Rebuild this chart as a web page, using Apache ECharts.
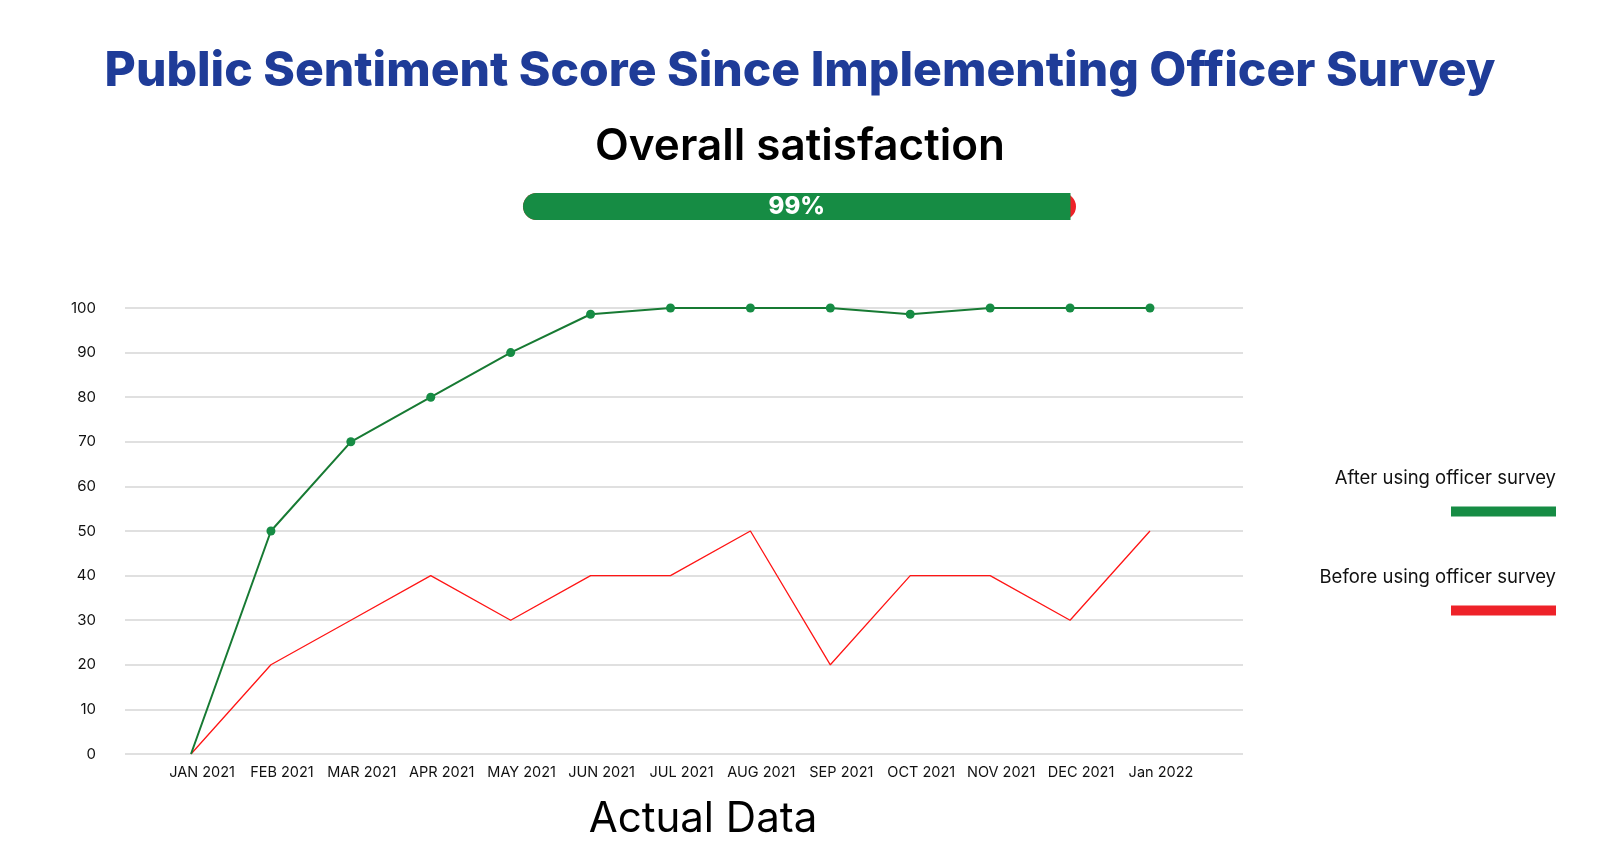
<!DOCTYPE html>
<html>
<head>
<meta charset="utf-8">
<script src="https://cdn.jsdelivr.net/npm/echarts@6/dist/echarts.min.js"></script>
<style>
  html, body { margin: 0; padding: 0; background: #fff; }
  #main { width: 1600px; height: 856px; }
</style>
</head>
<body>
<div id="main"></div>
<script>
const months = ["JAN 2021", "FEB 2021", "MAR 2021", "APR 2021", "MAY 2021", "JUN 2021", "JUL 2021",
  "AUG 2021", "SEP 2021", "OCT 2021", "NOV 2021", "DEC 2021", "Jan 2022"];
const afterSurvey = [0, 50, 70, 80, 90, 98.6, 100, 100, 100, 98.6, 100, 100, 100];
const beforeSurvey = [0, 20, 30, 40, 30, 40, 40, 50, 20, 40, 40, 30, 50];
const satisfaction = 99;
const yTicks = [0, 10, 20, 30, 40, 50, 60, 70, 80, 90, 100];

const green = "#168c44";
const red = "#ee2229";
const font = "Inter";

let myChart = echarts.init(document.getElementById('main'));

// index based x values so the axis can be padded on both sides
let afterData = afterSurvey.map(function (v, i) {
    return i === 0 ? {value: [i, v], symbol: 'none'} : [i, v];
});
let beforeData = beforeSurvey.map(function (v, i) { return [i, v]; });

function legendText(color) {
    return {
        fontFamily: font,
        fontSize: 18.5,
        color: '#111',
        rich: {
            t: {fontFamily: font, fontSize: 18.5, color: '#111', align: 'right', lineHeight: 56},
            g: {width: 105, height: 10, backgroundColor: color, align: 'right'}
        }
    };
}

let option = {
    backgroundColor: '#fff',
    title: [
        {
            text: 'Public Sentiment Score Since Implementing Officer Survey',
            left: 'center',
            top: 42,
            padding: 0,
            textStyle: {fontFamily: font, fontSize: 48, fontWeight: 800, color: '#1f3c98', lineHeight: 60}
        },
        {
            text: 'Overall satisfaction',
            left: 'center',
            top: 120,
            padding: 0,
            textStyle: {fontFamily: font, fontSize: 44, fontWeight: 600, color: '#000', lineHeight: 54}
        }
    ],
    graphic: [
        {
            type: 'text',
            x: 703,
            y: 819,
            style: {text: 'Actual Data', fontFamily: font, fontSize: 42, fill: '#000',
                align: 'center', verticalAlign: 'middle'}
        }
    ],
    legend: [
        {
            data: ['After using officer survey'],
            right: 44,
            top: 469,
            padding: 0,
            itemWidth: 0,
            itemHeight: 0,
            formatter: '{t|{name}}\n{g|}',
            textStyle: legendText(green)
        },
        {
            data: ['Before using officer survey'],
            right: 44,
            top: 568,
            padding: 0,
            itemWidth: 0,
            itemHeight: 0,
            formatter: '{t|{name}}\n{g|}',
            textStyle: legendText(red)
        }
    ],
    grid: [
        {left: 125, right: 357, top: 308, bottom: 102},
        {left: 523, width: 553, top: 193, height: 27}
    ],
    xAxis: [
        {
            type: 'value',
            gridIndex: 0,
            min: -0.826,
            max: 13.164,
            axisLine: {show: false},
            axisTick: {show: false},
            splitLine: {show: false},
            axisLabel: {
                customValues: months.map(function (m, i) { return i; }),
                formatter: function (v) { return months[Math.round(v)]; },
                fontFamily: font,
                fontSize: 14.5,
                color: '#111',
                margin: 11,
                padding: [0, 0, 0, 22]
            }
        },
        {type: 'value', gridIndex: 1, min: 0, max: 100, show: false}
    ],
    yAxis: [
        {
            type: 'value',
            gridIndex: 0,
            min: yTicks[0],
            max: yTicks[yTicks.length - 1],
            interval: 10,
            axisLine: {show: false},
            axisTick: {show: false},
            axisLabel: {fontFamily: font, fontSize: 15, color: '#111', margin: 29},
            splitLine: {lineStyle: {color: '#d6d6d6', width: 1.5}}
        },
        {type: 'category', gridIndex: 1, data: ['Overall satisfaction'], show: false}
    ],
    series: [
        {
            name: 'After using officer survey',
            type: 'line',
            data: afterData,
            color: green,
            symbol: 'circle',
            symbolSize: 9,
            lineStyle: {color: '#177a33', width: 2},
            itemStyle: {color: green},
            z: 3
        },
        {
            name: 'Before using officer survey',
            type: 'line',
            data: beforeData,
            color: red,
            showSymbol: false,
            symbol: 'none',
            lineStyle: {color: '#ff1515', width: 1.3},
            z: 2
        },
        {
            name: 'rest',
            type: 'bar',
            xAxisIndex: 1,
            yAxisIndex: 1,
            data: [100],
            barWidth: 27,
            itemStyle: {color: red, borderRadius: 13.5},
            silent: true,
            z: 1
        },
        {
            name: 'satisfied',
            type: 'bar',
            xAxisIndex: 1,
            yAxisIndex: 1,
            data: [satisfaction],
            barWidth: 27,
            barGap: '-100%',
            itemStyle: {color: green, borderRadius: [13.5, 0, 0, 13.5]},
            label: {
                show: true,
                position: 'inside',
                formatter: '{c}%',
                fontFamily: font,
                fontSize: 24,
                fontWeight: 800,
                color: '#fff'
            },
            silent: true,
            z: 2
        }
    ]
};
myChart.setOption(option);
</script>
</body>
</html>
